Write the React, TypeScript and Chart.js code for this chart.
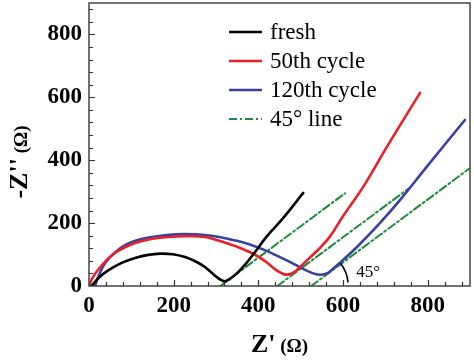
import React, { useEffect, useRef } from "react";
import { Chart, registerables } from "chart.js";

Chart.register(...registerables);

// ---- data ----
const freshX = [6, 18, 32, 54, 80, 109, 140, 168, 198, 227, 252, 272, 290, 305, 315, 322, 332, 350, 370, 390, 420, 458, 506];
const freshY = [0, 19, 37, 57, 75, 89, 99, 103, 101, 92, 78, 62, 42, 25, 17, 15, 22, 41, 70, 104, 158, 215, 296];

const cycle50X = [0, 8, 21, 40, 61, 85, 109, 150, 187, 230, 274, 309, 357, 390, 415, 435, 450, 462, 472, 485, 498, 520, 545, 569, 600, 650, 704, 782];
const cycle50Y = [0, 25, 51, 80, 105, 123, 137, 150, 156, 158, 156, 143, 121, 101, 80, 58, 44, 37, 37, 44, 60, 88, 120, 157, 222, 320, 443, 614];

const cycle120X = [14, 22, 38, 60, 85, 115, 149, 190, 227, 274, 310, 345, 380, 415, 451, 480, 505, 528, 545, 560, 575, 600, 633, 687, 735, 800, 888];
const cycle120Y = [0, 30, 73, 105, 130, 146, 156, 163, 165, 162, 155, 145, 132, 114, 92, 73, 55, 41, 36, 39, 53, 83, 124, 200, 274, 383, 528];

const guideFreshX = [310, 605];
const guideFreshY = [0, 295];
const guide50X = [445, 755];
const guide50Y = [0, 310];
const guide120X = [525, 900];
const guide120Y = [0, 375];

const seriesLabels = ["fresh", "50th cycle", "120th cycle", "45\u00b0 line"];
const xTickValues = [0, 200, 400, 600, 800];
const yTickValues = [0, 200, 400, 600, 800];
const minorStep = 40;
const axisMax = 900;
const angleLabel = "45\u00b0";

const COLORS = {
  fresh: "#000000",
  c50: "#e8202a",
  c120: "#3a3fa0",
  guide: "#1f8a3c",
};
const DASH = [8, 3, 2, 3];
const SERIF = "'Liberation Serif', 'Times New Roman', serif";

const pts = (xs: number[], ys: number[]) => xs.map((x, i) => ({ x, y: ys[i] }));

const noPad = (s: any) => {
  s.paddingTop = 0;
  s.paddingBottom = 0;
  s.paddingLeft = 0;
  s.paddingRight = 0;
};

const framePlugin = {
  id: "frameTicks",
  afterDatasetsDraw(chart: any) {
    const { ctx, chartArea: a, scales } = chart;
    const xs = scales.x;
    const ys = scales.y;
    ctx.save();
    ctx.strokeStyle = "#444";
    ctx.lineWidth = 1.5;
    ctx.strokeRect(a.left, a.top, a.right - a.left, a.bottom - a.top);
    ctx.lineWidth = 1.2;
    ctx.strokeStyle = "#333";
    ctx.beginPath();
    for (let v = minorStep; v < axisMax; v += minorStep) {
      const len = v % 200 === 0 ? 6 : 4;
      const px = Math.round(xs.getPixelForValue(v)) + 0.5;
      ctx.moveTo(px, a.bottom);
      ctx.lineTo(px, a.bottom - len);
      const py = Math.round(ys.getPixelForValue(v)) + 0.5;
      ctx.moveTo(a.left, py);
      ctx.lineTo(a.left + len, py);
    }
    ctx.stroke();

    // 45 degree annotation
    const cx = xs.getPixelForValue(guide120X[0]);
    const cy = ys.getPixelForValue(guide120Y[0]);
    ctx.strokeStyle = "#000";
    ctx.lineWidth = 1.6;
    ctx.beginPath();
    ctx.arc(cx, cy, 37, -0.66, -0.1);
    ctx.stroke();
    ctx.fillStyle = "#000";
    ctx.font = `17px ${SERIF}`;
    ctx.textAlign = "left";
    ctx.textBaseline = "alphabetic";
    ctx.fillText(angleLabel, cx + 45, cy - 9);

    // legend
    const colors = [COLORS.fresh, COLORS.c50, COLORS.c120, COLORS.guide];
    const rowY0 = a.top + 29;
    const rowGap = 29;
    const lx0 = 229;
    const lx1 = 262;
    ctx.font = `23px ${SERIF}`;
    ctx.textBaseline = "middle";
    seriesLabels.forEach((label, i) => {
      const y = rowY0 + i * rowGap;
      ctx.strokeStyle = colors[i];
      ctx.lineWidth = i === 3 ? 2 : 2.6;
      ctx.setLineDash(i === 3 ? DASH : []);
      ctx.beginPath();
      ctx.moveTo(lx0, y);
      ctx.lineTo(lx1, y);
      ctx.stroke();
      ctx.setLineDash([]);
      ctx.fillStyle = "#000";
      ctx.fillText(label, 270, y + 1);
    });

    // axis titles
    ctx.fillStyle = "#000";
    ctx.textBaseline = "alphabetic";
    const big = `bold 26px ${SERIF}`;
    const small = `bold 19px ${SERIF}`;
    // x title
    ctx.font = big;
    const xa = "Z'";
    const wa = ctx.measureText(xa).width;
    ctx.font = small;
    const xb = " (\u03a9)";
    const wb = ctx.measureText(xb).width;
    const xc = (a.left + a.right) / 2;
    const sx = xc - (wa + wb) / 2;
    ctx.font = big;
    ctx.fillText(xa, sx, 352);
    ctx.font = small;
    ctx.fillText(xb, sx + wa, 352);
    // y title
    ctx.save();
    ctx.translate(27, 162);
    ctx.rotate(-Math.PI / 2);
    ctx.font = big;
    const ya = "-Z''";
    const ywa = ctx.measureText(ya).width;
    ctx.font = small;
    const yb = " (\u03a9)";
    const ywb = ctx.measureText(yb).width;
    const ys0 = -(ywa + ywb) / 2;
    ctx.font = big;
    ctx.fillText(ya, ys0, 0);
    ctx.font = small;
    ctx.fillText(yb, ys0 + ywa, 0);
    ctx.restore();
    ctx.restore();
  },
};

export default function App() {
  const ref = useRef<HTMLCanvasElement | null>(null);
  useEffect(() => {
    if (!ref.current) return;
    const line = (data: any, color: string, dashed = false) => ({
      data,
      borderColor: color,
      backgroundColor: color,
      borderWidth: dashed ? 2 : 2.6,
      borderDash: dashed ? DASH : [],
      showLine: true,
      pointRadius: 0,
      fill: false,
      tension: dashed ? 0 : 0.4,
      borderCapStyle: "round",
      borderJoinStyle: "round",
    });
    const chart = new Chart(ref.current, {
      type: "scatter",
      data: {
        datasets: [
          { label: seriesLabels[0], ...line(pts(freshX, freshY), COLORS.fresh) },
          { label: seriesLabels[1], ...line(pts(cycle50X, cycle50Y), COLORS.c50) },
          { label: seriesLabels[2], ...line(pts(cycle120X, cycle120Y), COLORS.c120) },
          { label: seriesLabels[3], ...line(pts(guideFreshX, guideFreshY), COLORS.guide, true) },
          { label: seriesLabels[3], ...line(pts(guide50X, guide50Y), COLORS.guide, true) },
          { label: seriesLabels[3], ...line(pts(guide120X, guide120Y), COLORS.guide, true) },
        ] as any,
      },
      options: {
        animation: false,
        responsive: false,
        devicePixelRatio: 1,
        layout: { padding: { top: 3, right: 4, left: 0, bottom: 0 } },
        plugins: { legend: { display: false }, tooltip: { enabled: false } },
        scales: {
          x: {
            type: "linear",
            min: 0,
            max: axisMax,
            grid: { display: false, drawTicks: false },
            border: { display: false },
            afterBuildTicks: (s: any) => {
              s.ticks = xTickValues.map((v) => ({ value: v }));
            },
            afterFit: (s: any) => {
              s.height = 75;
              noPad(s);
            },
            ticks: {
              padding: 6,
              color: "#000",
              maxRotation: 0,
              font: { family: SERIF, size: 23, weight: "bold" },
            },
          },
          y: {
            type: "linear",
            min: 0,
            max: axisMax,
            grid: { display: false, drawTicks: false },
            border: { display: false },
            afterBuildTicks: (s: any) => {
              s.ticks = yTickValues.map((v) => ({ value: v }));
            },
            afterFit: (s: any) => {
              s.width = 89;
              noPad(s);
            },
            ticks: {
              padding: 7,
              color: "#000",
              font: { family: SERIF, size: 23, weight: "bold" },
            },
          },
        },
      } as any,
      plugins: [framePlugin],
    });
    return () => chart.destroy();
  }, []);
  return (
    <div style={{ position: "absolute", left: 0, top: 0, width: 474, height: 361, background: "#fff" }}>
      <canvas ref={ref} width={474} height={361} style={{ width: 474, height: 361, display: "block" }} />
    </div>
  );
}
